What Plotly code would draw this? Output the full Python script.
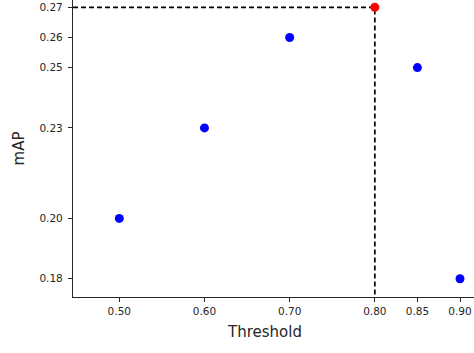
import plotly.graph_objects as go

thresholds = [0.50, 0.60, 0.70, 0.80, 0.85, 0.90]
map_values = [0.20, 0.23, 0.26, 0.27, 0.25, 0.18]
x_tick_vals = [0.50, 0.60, 0.70, 0.80, 0.85, 0.90]
x_tick_text = ["0.50", "0.60", "0.70", "0.80", "0.85", "0.90"]
y_tick_vals = [0.18, 0.20, 0.23, 0.25, 0.26, 0.27]
y_tick_text = ["0.18", "0.20", "0.23", "0.25", "0.26", "0.27"]

x_range = [0.44564, 0.91644]
y_range = [0.17393, 0.27242]

best_i = max(range(len(map_values)), key=lambda i: map_values[i])
best_x, best_y = thresholds[best_i], map_values[best_i]
other_x = [x for i, x in enumerate(thresholds) if i != best_i]
other_y = [y for i, y in enumerate(map_values) if i != best_i]

FONT = "DejaVu Sans"
TXT = "#262626"

fig = go.Figure()
fig.add_trace(go.Scatter(
    x=[x_range[0], best_x, best_x], y=[best_y, best_y, y_range[0]],
    mode="lines", line=dict(color="black", width=1.7, dash="5px,3px"),
    hoverinfo="skip", showlegend=False, cliponaxis=False))
fig.add_trace(go.Scatter(
    x=other_x, y=other_y, mode="markers",
    marker=dict(color="#0000ff", size=9), showlegend=False, cliponaxis=False))
fig.add_trace(go.Scatter(
    x=[best_x], y=[best_y], mode="markers",
    marker=dict(color="#ff0000", size=9), showlegend=False, cliponaxis=False))

fig.update_layout(
    width=474, height=353,
    margin=dict(l=73, r=0, t=0, b=56),
    paper_bgcolor="white", plot_bgcolor="white",
    font=dict(family=FONT, color=TXT, size=10),
    xaxis=dict(range=x_range, tickvals=x_tick_vals, ticktext=x_tick_text,
               showgrid=False, zeroline=False, showline=True, linecolor=TXT,
               linewidth=1.2, ticks="outside", ticklen=4, tickcolor=TXT,
               tickfont=dict(size=10.5, family=FONT, color=TXT)),
    yaxis=dict(range=y_range, tickvals=y_tick_vals, ticktext=y_tick_text,
               showgrid=False, zeroline=False, showline=True, linecolor=TXT,
               linewidth=1.2, ticks="outside", ticklen=4, tickcolor=TXT,
               ticklabelstandoff=3,
               tickfont=dict(size=10.5, family=FONT, color=TXT)),
    annotations=[
        dict(text="Threshold", xref="paper", yref="paper", x=0.4788, y=0,
             xanchor="center", yanchor="middle", yshift=-35, showarrow=False,
             font=dict(size=15, family=FONT, color=TXT)),
        dict(text="mAP", xref="paper", yref="paper", x=-0.1347, y=0.5,
             xanchor="center", yanchor="middle", textangle=-90, showarrow=False,
             font=dict(size=15, family=FONT, color=TXT)),
    ],
)

fig.write_html("out.html")
